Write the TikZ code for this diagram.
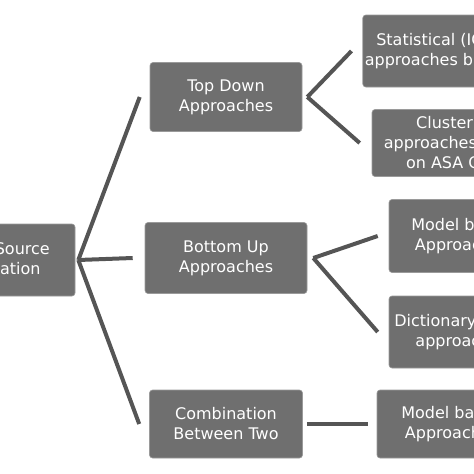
\documentclass[tikz,border=0pt]{standalone}
\usepackage{fontspec}
\setmainfont{DejaVu Sans}
\usepackage{tikz}
\usetikzlibrary{positioning}
\definecolor{boxgray}{HTML}{6F6F6F}
\definecolor{boxedge}{HTML}{9A9A9A}
\definecolor{linegray}{HTML}{555555}

\begin{document}
\begin{tikzpicture}[x=1pt,y=-1pt,
	box/.style={rectangle,rounded corners=3pt,fill=boxgray,draw=boxedge,line width=0.6pt,text=white,align=center,
		font=\fontsize{16}{20}\selectfont,inner sep=2pt},
	link/.style={draw=linegray,line width=4pt}]
		\clip (0,0) rectangle (474,474);
		% root and first level
		\node[box,minimum width=156,minimum height=72] (root) at (-3,260) {Audio Source\\Separation};
		\node[box,minimum width=152,minimum height=69] (td) at (226,97) {Top Down\\Approaches};
		\node[box,minimum width=162,minimum height=71] (bu) at (226,258) {Bottom Up\\Approaches};
		\node[box,minimum width=153,minimum height=68] (comb) at (226,424) {Combination\\Between Two};
		% second level
		\node[box,minimum width=150,minimum height=72] (stat) at (438,51) {Statistical (ICA)\\approaches based};
		\node[box,minimum width=170,minimum height=67] (clus) at (457,143) {Clustering\\approaches based\\on ASA Cues};
		\node[box,minimum width=146,minimum height=73] (mod) at (462,236) {Model based\\Approaches};
		\node[box,minimum width=146,minimum height=72] (dict) at (462,332) {Dictionary based\\approaches};
		\node[box,minimum width=150,minimum height=68] (mod2) at (452,424) {Model based\\Approaches};
		% connectors
		\coordinate (rj) at ([xshift=3]root.east);
		\coordinate (tj) at ([xshift=5]td.east);
		\coordinate (bj) at ([xshift=6]bu.east);
		\draw[link] (rj) -- ([xshift=-10]td.west);
		\draw[link] (rj) -- ([xshift=-12]bu.west);
		\draw[link] (rj) -- ([xshift=-10]comb.west);
		\draw[link] (tj) -- ([xshift=-11]stat.west);
		\draw[link] (tj) -- ([xshift=-12]clus.west);
		\draw[link] (bj) -- ([xshift=-11]mod.west);
		\draw[link] (bj) -- ([xshift=-11]dict.west);
		\draw[link] ([xshift=4]comb.east) -- ([xshift=-9]mod2.west);
\end{tikzpicture}
\end{document}
